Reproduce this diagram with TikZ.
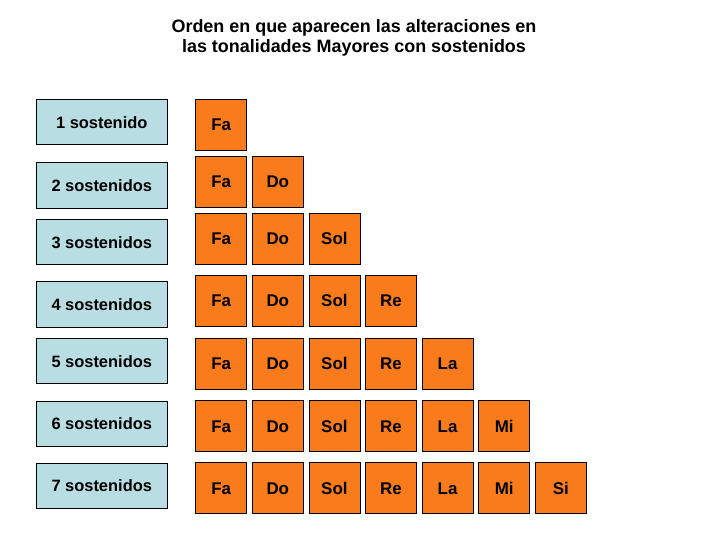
\documentclass[tikz,border=0pt]{standalone}
\usepackage{fontspec}
\setmainfont{Liberation Sans}
\definecolor{labfill}{HTML}{B8DEE3}
\definecolor{notefill}{HTML}{F97B1C}
\begin{document}
\begin{tikzpicture}[x=1bp,y=-1bp,
  labbox/.style={draw=black, line width=0.8bp, fill=labfill, minimum width=130.5bp,
    minimum height=45.5bp, inner sep=0pt, text height=12bp, text depth=0pt,
    font=\bfseries\fontsize{16.5}{18}\selectfont},
  notebox/.style={draw=black, line width=0.8bp, fill=notefill, minimum width=51bp,
    minimum height=51bp, inner sep=0pt, text height=12.2bp, text depth=0pt,
    font=\bfseries\fontsize{17}{19}\selectfont},
  titletext/.style={align=center, inner sep=0pt, font=\bfseries\fontsize{18}{20}\selectfont}]
\useasboundingbox (0,0) rectangle (720,540);
\node[titletext] (title) at (354,38) {Orden en que aparecen las alteraciones en\\las tonalidades Mayores con sostenidos};
\foreach \r/\lt/\nt/\txt in {1/99.3/99.3/1 sostenido, 2/162.7/156.3/2 sostenidos,
    3/219.3/213.3/3 sostenidos, 4/281.7/275/4 sostenidos, 5/338.3/338.3/5 sostenidos,
    6/401/400.7/6 sostenidos, 7/463/462.7/7 sostenidos} {
  \node[labbox] (lab\r) at (101.75,\lt+22.75) {\txt};
  \foreach \c/\nm in {1/Fa,2/Do,3/Sol,4/Re,5/La,6/Mi,7/Si} {
    \ifnum\c>\r\else
      \node[notebox] (n\r-\c) at (221.2+56.6*\c-56.6,\nt+25.5) {\nm};
    \fi
  }
}
\end{tikzpicture}
\end{document}
